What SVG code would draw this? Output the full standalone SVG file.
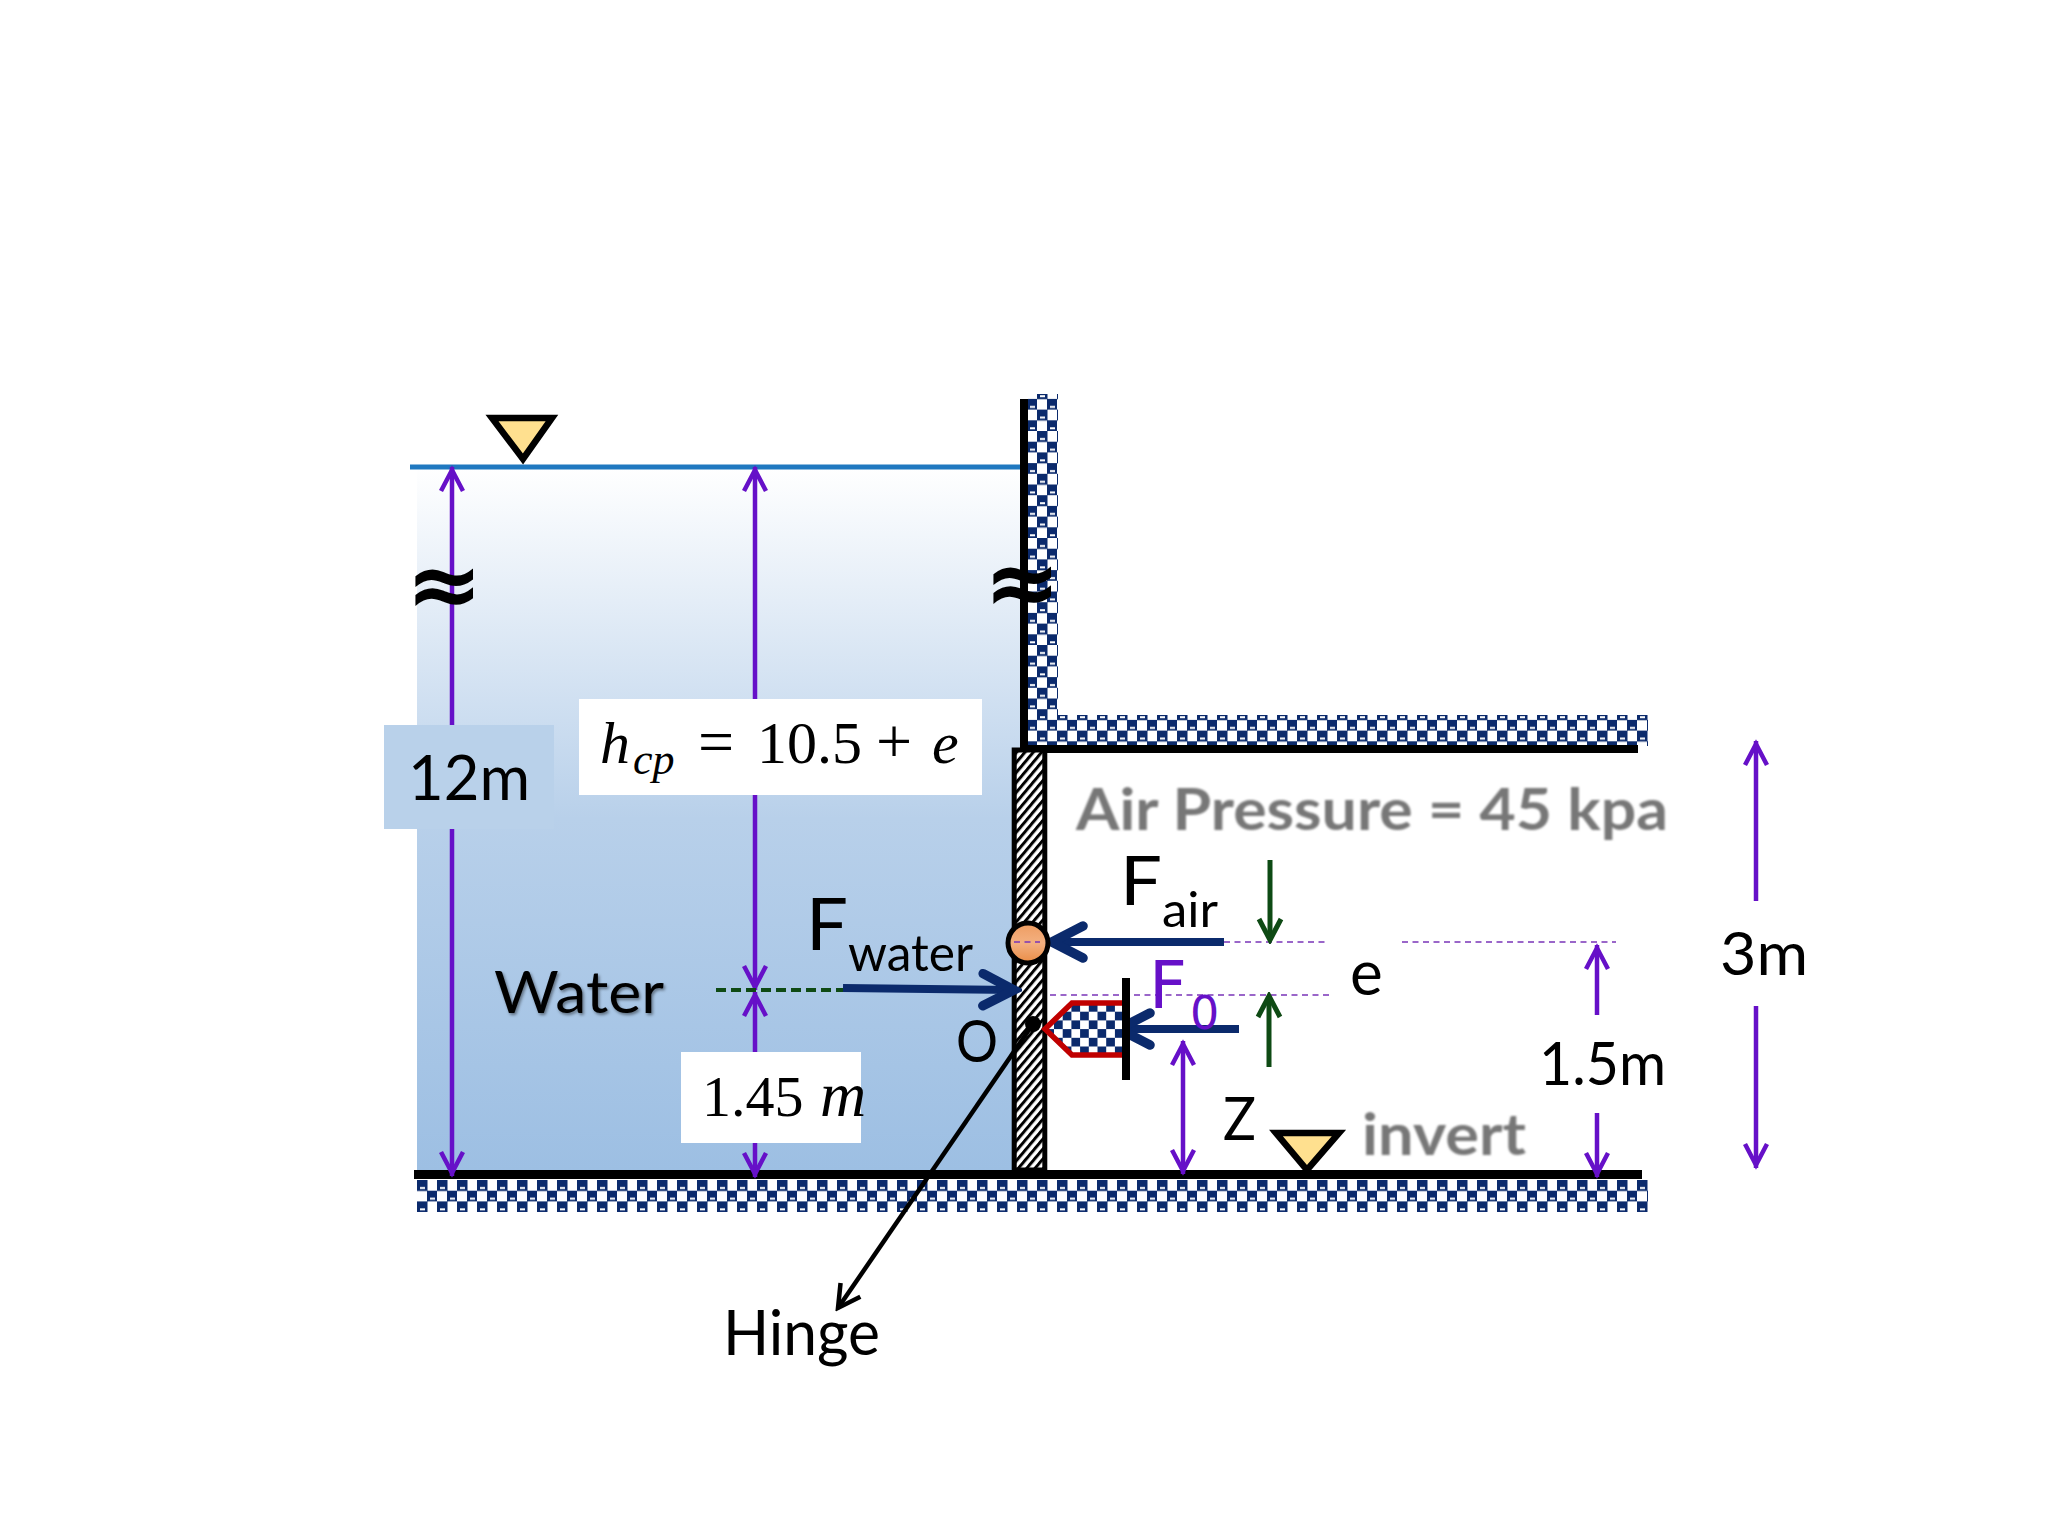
<svg xmlns="http://www.w3.org/2000/svg" width="2048" height="1536" viewBox="0 0 2048 1536">
<style>
.t{font-family:"Lato","Liberation Sans",sans-serif;fill:#000}
.d{font-family:"DejaVu Sans",sans-serif}
.m{font-family:"Liberation Serif",serif;fill:#000}
.g{font-family:"Lato","Liberation Sans",sans-serif;font-weight:700;fill:#777;filter:url(#soft)}
.pu{fill:none;stroke:#6610C8;stroke-width:4.5}
.ne{fill:none;stroke:#0B2A6C;stroke-width:8}
.gr{fill:none;stroke:#0E4A14;stroke-width:5}
.da{fill:none;stroke:#7A35B8;stroke-width:1.6;stroke-dasharray:6 4.5}
.tri{fill:#FFE08F;stroke:#000;stroke-width:6.5;stroke-linejoin:miter}
</style>
<defs>
<linearGradient id="water" x1="0" y1="0" x2="0" y2="1"><stop offset="0" stop-color="#fff"/><stop offset="0.5" stop-color="#b8d0ea"/><stop offset="1" stop-color="#9dbfe3"/></linearGradient>
<linearGradient id="ball" x1="0" y1="0" x2="0" y2="1"><stop offset="0" stop-color="#EE9C60"/><stop offset="0.5" stop-color="#F3B080"/><stop offset="1" stop-color="#EA8C45"/></linearGradient>
<pattern id="wall" patternUnits="userSpaceOnUse" width="20" height="21.4" x="417" y="1180">
<rect width="20" height="21.4" fill="#fff"/>
<rect x="0" y="0" width="10.5" height="11" fill="#0B2A6C"/>
<rect x="10" y="10.7" width="10.5" height="10.7" fill="#0B2A6C"/>
<rect x="3" y="7" width="5" height="2" fill="#fff"/><rect x="13" y="17.7" width="5" height="2" fill="#fff"/>
</pattern>
<pattern id="chk" patternUnits="userSpaceOnUse" width="17.4" height="17.4" x="1054" y="1003">
<rect width="17.4" height="17.4" fill="#fff"/><rect width="8.7" height="8.7" fill="#0B2A6C"/><rect x="8.7" y="8.7" width="8.7" height="8.7" fill="#0B2A6C"/>
</pattern>
<pattern id="hat" patternUnits="userSpaceOnUse" width="6.4" height="6.4" patternTransform="rotate(-50)">
<rect width="6.4" height="6.4" fill="#fff"/><rect width="6.4" height="3" fill="#000"/>
</pattern>
<marker id="mp" markerUnits="userSpaceOnUse" viewBox="-26 -15 30 30" refX="0" refY="0" markerWidth="30" markerHeight="30" orient="auto-start-reverse"><path d="M-24,-11 L-3,0 L-24,11" fill="none" stroke="#6610C8" stroke-width="4.5"/></marker>
<marker id="mn" markerUnits="userSpaceOnUse" viewBox="-40 -24 48 48" refX="0" refY="0" markerWidth="48" markerHeight="48" orient="auto-start-reverse"><path d="M-31,-16 L0,0 L-31,16" fill="none" stroke="#0B2A6C" stroke-width="9.5" stroke-linecap="round"/></marker>
<marker id="mg" markerUnits="userSpaceOnUse" viewBox="-26 -15 30 30" refX="0" refY="0" markerWidth="30" markerHeight="30" orient="auto-start-reverse"><path d="M-21,-11 L0,0 L-21,11" fill="none" stroke="#0E4A14" stroke-width="5"/></marker>
<marker id="mb" markerUnits="userSpaceOnUse" viewBox="-28 -16 32 32" refX="0" refY="0" markerWidth="32" markerHeight="32" orient="auto-start-reverse"><path d="M-22,-12 L0,0 L-22,12" fill="none" stroke="#000" stroke-width="4.5"/></marker>
<filter id="soft" x="-5%" y="-20%" width="110%" height="140%"><feGaussianBlur stdDeviation="1"/></filter>
<filter id="shadow" x="-10%" y="-20%" width="120%" height="140%"><feDropShadow dx="1.5" dy="2" stdDeviation="1.5" flood-color="#000" flood-opacity="0.45"/></filter>
</defs>
<rect width="2048" height="1536" fill="#fff"/>

<g id="water-body">
<rect x="417" y="467" width="603" height="703" fill="url(#water)"/>
<line x1="410" y1="467" x2="1026" y2="467" stroke="#1F78C0" stroke-width="5"/>
</g>

<g id="structure">
<rect x="1028" y="394" width="30" height="352" fill="url(#wall)"/>
<rect x="1058" y="715" width="590" height="31" fill="url(#wall)"/>
<rect x="417" y="1180" width="1231" height="32" fill="url(#wall)"/>
<rect x="1020" y="399" width="8" height="348" fill="#000"/>
<rect x="1020" y="745" width="618" height="8" fill="#000"/>
<rect x="414" y="1170" width="1228" height="9" fill="#000"/>
<rect x="1014.2" y="750" width="30.6" height="420" fill="url(#hat)" stroke="#000" stroke-width="5"/>
</g>

<g id="connectors">
<line class="da" x1="1224" y1="942" x2="1329" y2="942"/>
<line class="da" x1="1402" y1="942" x2="1616" y2="942"/>
<line class="da" x1="1050" y1="995" x2="1332" y2="995"/>
<line class="pu" x1="452" y1="467" x2="452" y2="1176" marker-start="url(#mp)" marker-end="url(#mp)"/>
<line class="pu" x1="755" y1="467" x2="755" y2="990" marker-start="url(#mp)" marker-end="url(#mp)"/>
<line class="pu" x1="755" y1="992" x2="755" y2="1177" marker-start="url(#mp)" marker-end="url(#mp)"/>
<line class="pu" x1="1183" y1="1041" x2="1183" y2="1174" marker-start="url(#mp)" marker-end="url(#mp)"/>
<line class="pu" x1="1597" y1="945" x2="1597" y2="1015" marker-start="url(#mp)"/>
<line class="pu" x1="1597" y1="1113" x2="1597" y2="1177" marker-end="url(#mp)"/>
<line class="pu" x1="1756" y1="741" x2="1756" y2="901" marker-start="url(#mp)"/>
<line class="pu" x1="1756" y1="1006" x2="1756" y2="1168" marker-end="url(#mp)"/>
<line class="gr" x1="1270" y1="860" x2="1270" y2="940" marker-end="url(#mg)"/>
<line class="gr" x1="1269" y1="1067" x2="1269" y2="996" marker-end="url(#mg)"/>
<line x1="716" y1="990" x2="843" y2="990" stroke="#0E4A14" stroke-width="4" stroke-dasharray="10 5"/>
<line class="ne" x1="843" y1="988" x2="1014" y2="990" marker-end="url(#mn)"/>
<line class="ne" x1="1224" y1="942" x2="1052" y2="942" marker-end="url(#mn)"/>
<line class="ne" x1="1239" y1="1029" x2="1119" y2="1029" marker-end="url(#mn)"/>
<line x1="1033" y1="1024" x2="838" y2="1308" stroke="#000" stroke-width="4.5" marker-end="url(#mb)"/>
</g>

<g id="label-12m"><rect x="384" y="725" width="170" height="104" fill="#b9d1ea"/><text class="t" x="408" y="800" font-size="62" textLength="122" lengthAdjust="spacingAndGlyphs">12m</text></g>
<g id="label-hcp"><rect x="579" y="699" width="403" height="96" fill="#fff"/>
<text class="m" y="763" font-size="60"><tspan x="600" font-style="italic">h</tspan><tspan x="633" y="774" font-style="italic" font-size="44">cp</tspan><tspan x="698" y="763" font-size="64">=</tspan><tspan x="757">10.5</tspan><tspan x="876" font-size="64">+</tspan><tspan x="932" font-style="italic">e</tspan></text></g>
<g id="label-145"><rect x="681" y="1052" width="180" height="91" fill="#fff"/>
<text class="m" y="1116" font-size="58"><tspan x="702">1.45</tspan><tspan x="820" font-size="64" font-style="italic">m</tspan></text></g>

<g id="surface-marker"><polygon class="tri" points="492,418 552,418 523,459"/></g>
<g id="invert-marker"><polygon class="tri" points="1276,1133 1339,1133 1307,1170"/></g>

<g id="flap">
<polygon points="1045,1029 1072,1003 1126,1003 1126,1055 1072,1055" fill="url(#chk)" stroke="#C00000" stroke-width="5.5"/>
<rect x="1122" y="978" width="8" height="102" fill="#000"/>
</g>
<g id="hinge-dot"><circle cx="1033" cy="1024" r="8" fill="#000"/></g>
<g id="pivot"><circle cx="1028" cy="943" r="20" fill="url(#ball)" stroke="#000" stroke-width="5"/><line class="da" x1="1014" y1="942" x2="1040" y2="942"/></g>

<g id="break-marks">
<text x="444" y="616" font-family="DejaVu Sans" font-weight="700" font-size="92" text-anchor="middle">≈</text>
<text x="1022" y="614" font-family="DejaVu Sans" font-weight="700" font-size="92" text-anchor="middle">≈</text>
</g>

<g id="labels">
<text class="g" x="1076" y="830" font-size="58" textLength="592" lengthAdjust="spacingAndGlyphs">Air Pressure = 45 kpa</text>
<text class="g" x="1362" y="1155" font-size="58" textLength="164" lengthAdjust="spacingAndGlyphs">invert</text>
<text class="t" x="494" y="1013" font-size="58" textLength="170" lengthAdjust="spacingAndGlyphs" filter="url(#shadow)">Water</text>
<text class="t" x="806" y="950" font-size="72" textLength="42" lengthAdjust="spacingAndGlyphs">F</text>
<text class="t" x="848" y="971" font-size="50" textLength="125" lengthAdjust="spacingAndGlyphs">water</text>
<text class="t" x="1120" y="905" font-size="68" textLength="42" lengthAdjust="spacingAndGlyphs">F</text>
<text class="t" x="1162" y="927" font-size="48" textLength="56" lengthAdjust="spacingAndGlyphs">air</text>
<text class="d" x="1149" y="1008" font-size="66" fill="#6610C8">F</text>
<text class="d" x="1190" y="1029" font-size="46" fill="#6610C8">0</text>
<text class="t" x="956" y="1062" font-size="58" textLength="42" lengthAdjust="spacingAndGlyphs">O</text>
<text class="t" x="1223" y="1140" font-size="60" textLength="33" lengthAdjust="spacingAndGlyphs">Z</text>
<text class="t" x="1350" y="995" font-size="62">e</text>
<text class="t" x="1539" y="1085" font-size="60" textLength="127" lengthAdjust="spacingAndGlyphs">1.5m</text>
<text class="t" x="1720" y="975" font-size="60" textLength="88" lengthAdjust="spacingAndGlyphs">3m</text>
<text class="t" x="723" y="1355" font-size="62" textLength="157" lengthAdjust="spacingAndGlyphs">Hinge</text>
</g>
</svg>
